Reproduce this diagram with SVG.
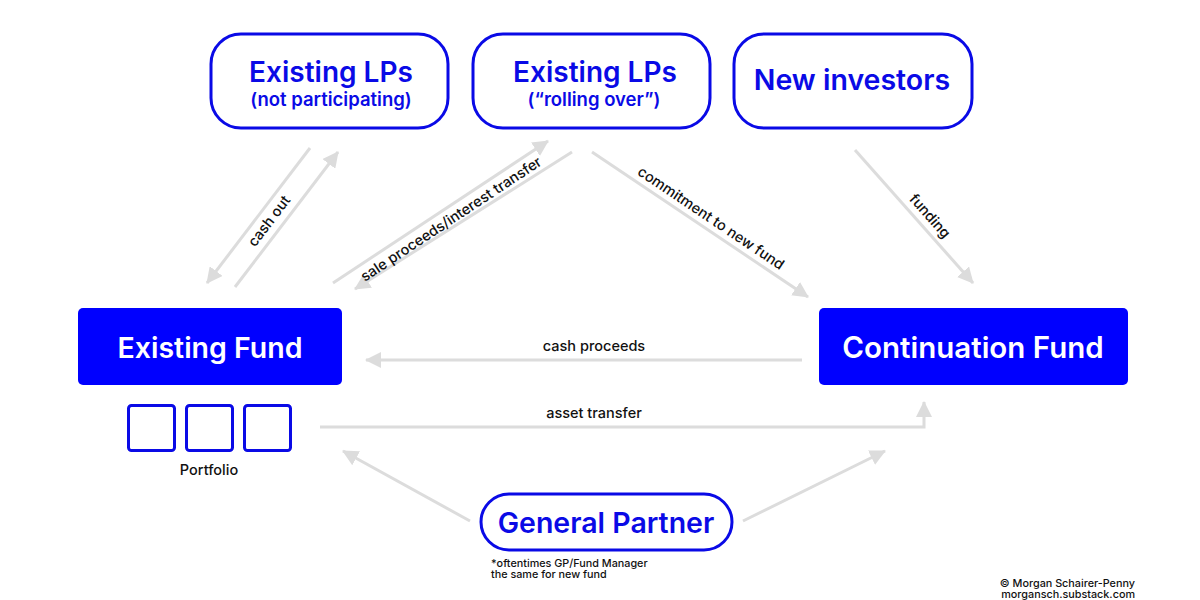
<svg xmlns="http://www.w3.org/2000/svg" width="1200" height="600" viewBox="0 0 1200 600">
<defs>
<marker id="ah" markerUnits="userSpaceOnUse" markerWidth="16" markerHeight="16" viewBox="0 0 16 16" refX="15" refY="8" orient="auto">
<path d="M0,0 L16,8 L0,16 Z" fill="#dcdcdc"/>
</marker>
<style>
.pill{fill:#ffffff;stroke:#0a0ae6;stroke-width:3}
.solid{fill:#0000ff}
.sq{fill:#ffffff;stroke:#0a0ae6;stroke-width:3}
.h{font-family:Inter,"Liberation Sans",sans-serif;font-weight:600;fill:#0a0ae6;text-anchor:middle}
.hw{font-family:Inter,"Liberation Sans",sans-serif;font-weight:600;fill:#ffffff;text-anchor:middle}
.sub{font-family:Inter,"Liberation Sans",sans-serif;font-weight:600;fill:#0a0ae6;text-anchor:middle;font-size:18.5px}
.lbl{font-family:Inter,"Liberation Sans",sans-serif;font-weight:500;fill:#111111;text-anchor:middle;font-size:14.5px}
.small{font-family:Inter,"Liberation Sans",sans-serif;font-weight:500;fill:#111111;font-size:10.8px}
.arr{fill:none;stroke:#dcdcdc;stroke-width:3;marker-end:url(#ah)}
</style>
</defs>
<rect width="1200" height="600" fill="#ffffff"/>

<g id="connectors">
<line class="arr" x1="310" y1="148" x2="207" y2="283"/>
<line class="arr" x1="235" y1="287" x2="338" y2="152"/>
<line class="arr" x1="333" y1="283" x2="548" y2="141"/>
<line class="arr" x1="572" y1="152" x2="355" y2="289"/>
<line class="arr" x1="592" y1="152" x2="808" y2="297"/>
<line class="arr" x1="855" y1="150" x2="973" y2="283"/>
<line class="arr" x1="802" y1="360" x2="366" y2="360"/>
<path class="arr" d="M320,427 L924,427 L924,402"/>
<line class="arr" x1="470" y1="521" x2="343" y2="451"/>
<line class="arr" x1="743" y1="521" x2="885" y2="451"/>
<text class="lbl" transform="translate(269,221) rotate(-52.7)" dy="5">cash out</text>
<text class="lbl" transform="translate(451,219) rotate(-33.5)" dy="5">sale proceeds/interest transfer</text>
<text class="lbl" transform="translate(711,218) rotate(33.9)" dy="5">commitment to new fund</text>
<text class="lbl" transform="translate(930,216) rotate(48.4)" dy="5">funding</text>
<text class="lbl" x="594" y="351">cash proceeds</text>
<text class="lbl" x="594" y="418">asset transfer</text>
</g>

<g id="lp-not-participating">
<rect class="pill" x="211" y="34" width="237" height="94" rx="30"/>
<text class="h" x="331" y="82" font-size="28">Existing LPs</text>
<text class="sub" x="331" y="106">(not participating)</text>
</g>

<g id="lp-rolling-over">
<rect class="pill" x="473" y="34" width="237" height="94" rx="30"/>
<text class="h" x="595" y="82" font-size="28">Existing LPs</text>
<text class="sub" x="594" y="106">(“rolling over”)</text>
</g>

<g id="new-investors">
<rect class="pill" x="734" y="34" width="238" height="94" rx="30"/>
<text class="h" x="852" y="90" font-size="28.5">New investors</text>
</g>

<g id="existing-fund">
<rect class="solid" x="78" y="308" width="264" height="77" rx="5"/>
<text class="hw" x="210" y="358" font-size="28.5">Existing Fund</text>
</g>

<g id="continuation-fund">
<rect class="solid" x="819" y="308" width="309" height="77" rx="5"/>
<text class="hw" x="973" y="358" font-size="29.5">Continuation Fund</text>
</g>

<g id="portfolio">
<rect class="sq" x="128.5" y="405.5" width="46" height="45" rx="3"/>
<rect class="sq" x="186.5" y="405.5" width="46" height="45" rx="3"/>
<rect class="sq" x="244.5" y="405.5" width="46" height="45" rx="3"/>
<text class="lbl" x="209" y="475" font-weight="600">Portfolio</text>
</g>

<g id="general-partner">
<rect class="pill" x="481" y="494" width="251" height="56" rx="28"/>
<text class="h" x="606" y="533" font-size="28.5">General Partner</text>
<text class="small" x="491" y="567">*oftentimes GP/Fund Manager</text>
<text class="small" x="491" y="578">the same for new fund</text>
</g>

<g id="credit">
<text class="small" x="1135" y="587" text-anchor="end" font-weight="600" font-size="11.3">© Morgan Schairer-Penny</text>
<text class="small" x="1135" y="598" text-anchor="end" font-weight="600" font-size="11.3">morgansch.substack.com</text>
</g>
</svg>
